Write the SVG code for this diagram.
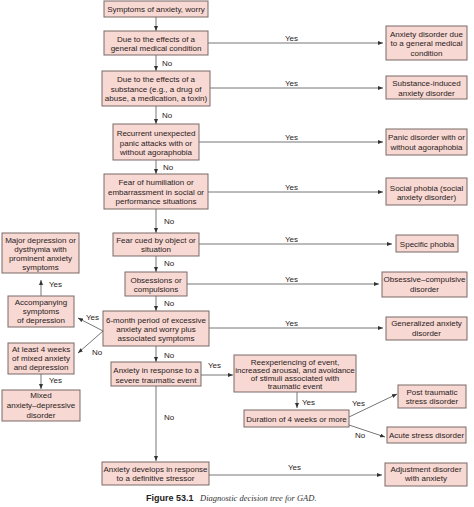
<svg xmlns="http://www.w3.org/2000/svg" width="474" height="507" viewBox="0 0 474 507">
<defs>
<marker id="ah" markerUnits="userSpaceOnUse" markerWidth="5" markerHeight="4" refX="5" refY="2" orient="auto">
<path d="M0,0 L5,2 L0,4 z" fill="#333"/>
</marker>
<style>
.b{fill:#f7d8d2;stroke:#7a6868;stroke-width:1}
.t{font-family:"Liberation Sans",Arial,sans-serif;font-size:8px;fill:#2a2222;text-anchor:middle}
.l{font-family:"Liberation Sans",Arial,sans-serif;font-size:8px;fill:#2a2222}
.c{stroke:#666;stroke-width:0.9;fill:none;marker-end:url(#ah)}
</style>
</defs>
<rect width="474" height="507" fill="#ffffff"/>

<g id="connectors">
<path class="c" d="M156,17 V31"/>
<path class="c" d="M156,55 V71"/>
<path class="c" d="M156,106 V124"/>
<path class="c" d="M156,160 V174"/>
<path class="c" d="M156,209 V233"/>
<path class="c" d="M156,256 V272"/>
<path class="c" d="M156,296 V311"/>
<path class="c" d="M156,346 V362"/>
<path class="c" d="M156,386 V461"/>
<path class="c" d="M208,43 H383"/>
<path class="c" d="M210,88 H383"/>
<path class="c" d="M199,142 H383"/>
<path class="c" d="M208,192 H383"/>
<path class="c" d="M199,244 H392"/>
<path class="c" d="M187,284 H379"/>
<path class="c" d="M209,328 H383"/>
<path class="c" d="M209,475 H382"/>
<path class="c" d="M201,375 H233"/>
<path class="c" d="M297,392 V408"/>
<path class="c" d="M349,417 L397,394"/>
<path class="c" d="M349,425 L385,437"/>
<path class="c" d="M103,331 L78,318"/>
<path class="c" d="M103,331 L78,353"/>
<path class="c" d="M41,296 V280"/>
<path class="c" d="M41,374 V389"/>
<text class="l" x="162" y="66">No</text>
<text class="l" x="162" y="118">No</text>
<text class="l" x="163" y="170">No</text>
<text class="l" x="164" y="224">No</text>
<text class="l" x="164" y="266">No</text>
<text class="l" x="164" y="306">No</text>
<text class="l" x="164" y="358">No</text>
<text class="l" x="164" y="420">No</text>
<text class="l" x="285" y="41">Yes</text>
<text class="l" x="285" y="86">Yes</text>
<text class="l" x="285" y="140">Yes</text>
<text class="l" x="285" y="190">Yes</text>
<text class="l" x="285" y="242">Yes</text>
<text class="l" x="285" y="282">Yes</text>
<text class="l" x="285" y="326">Yes</text>
<text class="l" x="288" y="470">Yes</text>
<text class="l" x="208" y="368">Yes</text>
<text class="l" x="302" y="405">Yes</text>
<text class="l" x="352" y="406">Yes</text>
<text class="l" x="355" y="438">No</text>
<text class="l" x="86" y="320">Yes</text>
<text class="l" x="92" y="355">No</text>
<text class="l" x="49" y="287">Yes</text>
<text class="l" x="49" y="383">Yes</text>
</g>

<g id="n1"><rect class="b" x="104" y="1" width="104" height="16"/>
<text class="t" x="156" y="12">Symptoms of anxiety, worry</text></g>

<g id="n2"><rect class="b" x="104" y="31" width="104" height="24"/>
<text class="t" x="156" y="42">Due to the effects of a</text>
<text class="t" x="156" y="51">general medical condition</text></g>

<g id="n3"><rect class="b" x="102" y="71" width="108" height="35"/>
<text class="t" x="156" y="82">Due to the effects of a</text>
<text class="t" x="156" y="92">substance (e.g., a drug of</text>
<text class="t" x="156" y="101">abuse, a medication, a toxin)</text></g>

<g id="n4"><rect class="b" x="113" y="124" width="86" height="36"/>
<text class="t" x="156" y="136">Recurrent unexpected</text>
<text class="t" x="156" y="145.5">panic attacks with or</text>
<text class="t" x="156" y="155">without agoraphobia</text></g>

<g id="n5"><rect class="b" x="104" y="174" width="104" height="35"/>
<text class="t" x="156" y="185">Fear of humiliation or</text>
<text class="t" x="156" y="195">embarrassment in social or</text>
<text class="t" x="156" y="204">performance situations</text></g>

<g id="n6"><rect class="b" x="113" y="233" width="86" height="23"/>
<text class="t" x="156" y="243">Fear cued by object or</text>
<text class="t" x="156" y="252">situation</text></g>

<g id="n7"><rect class="b" x="125" y="272" width="62" height="24"/>
<text class="t" x="156" y="283">Obsessions or</text>
<text class="t" x="156" y="292">compulsions</text></g>

<g id="n8"><rect class="b" x="103" y="311" width="106" height="35"/>
<text class="t" x="156" y="323">6-month period of excessive</text>
<text class="t" x="156" y="332">anxiety and worry plus</text>
<text class="t" x="156" y="341">associated symptoms</text></g>

<g id="n9"><rect class="b" x="111" y="362" width="90" height="24"/>
<text class="t" x="156" y="373">Anxiety in response to a</text>
<text class="t" x="156" y="383">severe traumatic event</text></g>

<g id="n10"><rect class="b" x="102" y="462" width="107" height="23"/>
<text class="t" x="155.5" y="472">Anxiety develops in response</text>
<text class="t" x="155.5" y="481">to a definitive stressor</text></g>

<g id="n11"><rect class="b" x="2" y="233" width="77" height="40"/>
<text class="t" x="40.5" y="243">Major depression or</text>
<text class="t" x="40.5" y="252">dysthymia with</text>
<text class="t" x="40.5" y="261">prominent anxiety</text>
<text class="t" x="40.5" y="270">symptoms</text></g>

<g id="n12"><rect class="b" x="8" y="296" width="66" height="31"/>
<text class="t" x="41" y="305">Accompanying</text>
<text class="t" x="41" y="314">symptoms</text>
<text class="t" x="41" y="323">of depression</text></g>

<g id="n13"><rect class="b" x="8" y="343" width="66" height="31"/>
<text class="t" x="41" y="352">At least 4 weeks</text>
<text class="t" x="41" y="361">of mixed anxiety</text>
<text class="t" x="41" y="370">and depression</text></g>

<g id="n14"><rect class="b" x="2" y="390" width="78" height="31"/>
<text class="t" x="41" y="398">Mixed</text>
<text class="t" x="41" y="408">anxiety–depressive</text>
<text class="t" x="41" y="418">disorder</text></g>

<g id="r1"><rect class="b" x="386" y="26" width="81" height="34"/>
<text class="t" x="426.5" y="37">Anxiety disorder due</text>
<text class="t" x="426.5" y="46">to a general medical</text>
<text class="t" x="426.5" y="56">condition</text></g>

<g id="r2"><rect class="b" x="386" y="76" width="81" height="23"/>
<text class="t" x="426.5" y="86">Substance-induced</text>
<text class="t" x="426.5" y="96">anxiety disorder</text></g>

<g id="r3"><rect class="b" x="386" y="129" width="81" height="26"/>
<text class="t" x="426.5" y="140">Panic disorder with or</text>
<text class="t" x="426.5" y="150">without agoraphobia</text></g>

<g id="r4"><rect class="b" x="386" y="178" width="81" height="27"/>
<text class="t" x="426.5" y="191">Social phobia (social</text>
<text class="t" x="426.5" y="200">anxiety disorder)</text></g>

<g id="r5"><rect class="b" x="396" y="235" width="62" height="17"/>
<text class="t" x="427" y="247">Specific phobia</text></g>

<g id="r6"><rect class="b" x="382" y="272" width="85" height="25"/>
<text class="t" x="424.5" y="282">Obsessive–compulsive</text>
<text class="t" x="424.5" y="292">disorder</text></g>

<g id="r7"><rect class="b" x="386" y="317" width="81" height="23"/>
<text class="t" x="426.5" y="326">Generalized anxiety</text>
<text class="t" x="426.5" y="336">disorder</text></g>

<g id="r8"><rect class="b" x="234" y="355" width="122" height="37"/>
<text class="t" x="295" y="364.5">Reexperiencing of event,</text>
<text class="t" x="295" y="372.5">increased arousal, and avoidance</text>
<text class="t" x="295" y="381">of stimuli associated with</text>
<text class="t" x="295" y="389">traumatic event</text></g>

<g id="r9"><rect class="b" x="244" y="410" width="105" height="17"/>
<text class="t" x="296.5" y="421.5">Duration of 4 weeks or more</text></g>

<g id="r10"><rect class="b" x="398" y="385" width="68" height="23"/>
<text class="t" x="432" y="395">Post traumatic</text>
<text class="t" x="432" y="404">stress disorder</text></g>

<g id="r11"><rect class="b" x="387" y="427" width="79" height="16"/>
<text class="t" x="426.5" y="438">Acute stress disorder</text></g>

<g id="r12"><rect class="b" x="385" y="463" width="82" height="23"/>
<text class="t" x="426" y="472">Adjustment disorder</text>
<text class="t" x="426" y="481">with anxiety</text></g>

<g id="caption">
<text x="146" y="501" font-family="Liberation Sans,Arial,sans-serif" font-size="9" font-weight="bold" fill="#222">Figure 53.1</text>
<text x="200" y="501" font-family="Liberation Serif,Times New Roman,serif" font-size="8.5" font-style="italic" fill="#333">Diagnostic decision tree for GAD.</text>
</g>
</svg>
